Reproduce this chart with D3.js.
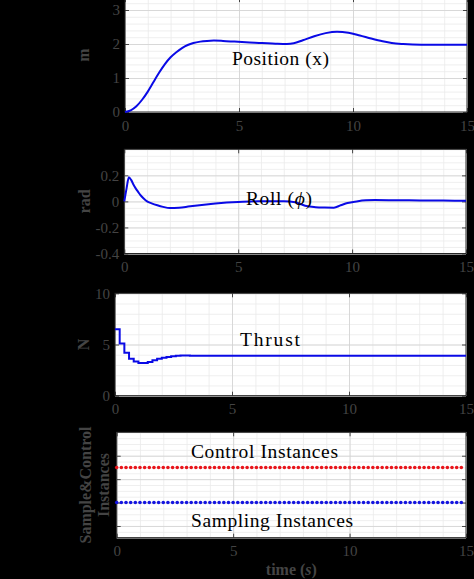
<!DOCTYPE html>
<html>
<head>
<meta charset="utf-8">
<script src="https://cdn.jsdelivr.net/npm/d3@7"></script>
<style>
  html, body { margin: 0; padding: 0; background: #000; }
  svg { display: block; }
  svg text { font-family: 'Liberation Serif', 'Times New Roman', 'DejaVu Serif', serif; }
</style>
</head>
<body>
<div id="chart"></div>
<script>
'use strict';

// time axis
const xTicks = [0, 5, 10, 15]

// position (x) response, m
const posT = [0, 0.25, 0.5, 0.75, 1.0, 1.25, 1.5, 1.75, 2.0, 2.25, 2.5, 2.75, 3.0, 3.3, 3.6, 3.9, 4.3, 4.8, 5.3, 6.0, 6.6, 7.1, 7.4, 7.8, 8.3, 8.8, 9.3, 9.8, 10.3, 10.8, 11.3, 11.7, 12.2, 13.0, 14.0, 15.0]
const posV = [0, 0.05, 0.17, 0.36, 0.6, 0.88, 1.16, 1.41, 1.61, 1.76, 1.88, 1.97, 2.03, 2.07, 2.09, 2.10, 2.09, 2.07, 2.05, 2.03, 2.01, 2.0, 2.02, 2.11, 2.23, 2.32, 2.36, 2.33, 2.25, 2.16, 2.08, 2.03, 2.0, 1.98, 1.98, 1.98]
const posTicks = [0, 1, 2, 3]

// roll angle, rad
const rollT = [0, 0.1, 0.2, 0.3, 0.4, 0.5, 0.6, 0.7, 0.85, 1.0, 1.2, 1.45, 1.7, 2.0, 2.4, 2.8, 3.2, 3.6, 4.0, 4.5, 5.0, 5.5, 6.0, 6.5, 7.0, 7.5, 7.8, 8.0, 8.4, 8.8, 9.2, 9.5, 9.8, 10.2, 10.6, 11.0, 12.0, 13.0, 14.0, 15.0]
const rollV = [0, 0.1, 0.185, 0.165, 0.13, 0.1, 0.075, 0.05, 0.022, 0.0, -0.015, -0.03, -0.042, -0.051, -0.048, -0.04, -0.031, -0.023, -0.016, -0.009, -0.004, -0.001, 0.001, 0.002, 0.001, -0.006, -0.025, -0.036, -0.044, -0.047, -0.048, -0.03, -0.012, 0.0, 0.008, 0.01, 0.009, 0.007, 0.006, 0.005]
const rollTicks = [-0.4, -0.2, 0, 0.2]

// thrust, N (zero-order hold)
const thrustT = [0, 0.2, 0.4, 0.6, 0.8, 1.0, 1.2, 1.4, 1.6, 1.8, 2.0, 2.2, 2.4, 2.6, 2.8, 3.0, 3.2, 15]
const thrustV = [6.5, 5.1, 4.2, 3.6, 3.35, 3.2, 3.2, 3.3, 3.45, 3.6, 3.7, 3.78, 3.85, 3.9, 3.92, 3.92, 3.9, 3.9]
const thrustTicks = [0, 5, 10]

// sampling / control instants, s
const sampleT = [0, 0.2, 0.4, 0.6, 0.8, 1, 1.2, 1.4, 1.6, 1.8, 2, 2.2, 2.4, 2.6, 2.8, 3, 3.2, 3.4, 3.6, 3.8,
  4, 4.2, 4.4, 4.6, 4.8, 5, 5.2, 5.4, 5.6, 5.8, 6, 6.2, 6.4, 6.6, 6.8, 7, 7.2, 7.4, 7.6, 7.8,
  8, 8.2, 8.4, 8.6, 8.8, 9, 9.2, 9.4, 9.6, 9.8, 10, 10.2, 10.4, 10.6, 10.8, 11, 11.2, 11.4, 11.6, 11.8,
  12, 12.2, 12.4, 12.6, 12.8, 13, 13.2, 13.4, 13.6, 13.8, 14, 14.2, 14.4, 14.6, 14.8]
const controlLevel = 1.75
const samplingLevel = 1
const instTicks = [0.5, 1, 1.5, 2]

const W = 474, H = 579
const serif = "'Liberation Serif', 'Times New Roman', 'DejaVu Serif', serif"
const lineBlue = '#0a0ae6'
const tickColor = '#444'

const svg = d3.select('#chart').append('svg')
  .attr('width', W).attr('height', H)
svg.append('rect').attr('width', W).attr('height', H).attr('fill', '#000')

function drawPanel(cfg) {
  const x = d3.scaleLinear().domain([0, 15]).range([cfg.left, cfg.right])
  const y = d3.scaleLinear().domain(cfg.yDomain).range([cfg.bottom, cfg.top])
  const h = cfg.bottom - cfg.top, w = cfg.right - cfg.left
  const g = svg.append('g')

  g.append('rect')
    .attr('x', cfg.left).attr('y', cfg.top)
    .attr('width', w).attr('height', h)
    .attr('fill', '#fff')

  const grid = (axis, pos, color) => {
    g.append('g')
      .attr('transform', pos)
      .call(axis.tickFormat('').tickSizeOuter(0))
      .call(s => s.select('.domain').remove())
      .selectAll('line').attr('stroke', color).attr('stroke-width', 0.8)
  }
  // minor grid
  grid(d3.axisBottom(x).tickValues(d3.range(0, 15.01, 1)).tickSizeInner(-h), `translate(0,${cfg.bottom})`, '#ebebeb')
  grid(d3.axisLeft(y).tickValues(d3.range(cfg.yDomain[0], cfg.yDomain[1] + 1e-9, cfg.minor)).tickSizeInner(-w), `translate(${cfg.left},0)`, '#ebebeb')
  // major grid
  grid(d3.axisBottom(x).tickValues(xTicks).tickSizeInner(-h), `translate(0,${cfg.bottom})`, '#d2d2d2')
  grid(d3.axisLeft(y).tickValues(cfg.ticks).tickSizeInner(-w), `translate(${cfg.left},0)`, '#d2d2d2')

  // tick marks + labels
  const styleAxis = s => {
    s.select('.domain').remove()
    s.attr('font-size', 15).attr('font-family', null).attr('color', tickColor)
  }
  g.append('g').attr('transform', `translate(0,${cfg.bottom})`)
    .call(d3.axisBottom(x).tickValues(xTicks).tickSizeInner(-4).tickSizeOuter(0).tickPadding(8))
    .call(styleAxis)
  g.append('g').attr('transform', `translate(0,${cfg.top})`)
    .call(d3.axisTop(x).tickValues(xTicks).tickSizeInner(-4).tickSizeOuter(0).tickFormat(''))
    .call(styleAxis)
  g.append('g').attr('transform', `translate(${cfg.left},0)`)
    .call(d3.axisLeft(y).tickValues(cfg.ticks).tickSizeInner(-4).tickSizeOuter(0).tickPadding(5)
      .tickFormat(cfg.showYLabels ? d => String(d) : ''))
    .call(styleAxis)
  g.append('g').attr('transform', `translate(${cfg.right},0)`)
    .call(d3.axisRight(y).tickValues(cfg.ticks).tickSizeInner(-4).tickSizeOuter(0).tickFormat(''))
    .call(styleAxis)

  g.append('rect')
    .attr('x', cfg.left).attr('y', cfg.top)
    .attr('width', w).attr('height', h)
    .attr('fill', 'none').attr('stroke', '#262626').attr('stroke-width', 1)

  // y label
  const lab = g.append('text')
    .attr('transform', `translate(${cfg.labelX},${(cfg.top + cfg.bottom) / 2}) rotate(-90)`)
    .attr('text-anchor', 'middle')
    .attr('font-weight', 'bold').attr('font-size', 16)
    .attr('fill', tickColor)
  cfg.yLabel.forEach((t, i) => {
    lab.append('tspan').attr('x', 0).attr('y', i * 18.5).attr('dy', '0.35em').text(t)
  })

  return {g, x, y}
}

function annotate(p, t, v, parts, width) {
  const txt = p.g.append('text')
    .attr('x', p.x(t)).attr('y', p.y(v))
    .attr('font-size', 19.5).attr('fill', '#000')
    .attr('textLength', width).attr('lengthAdjust', 'spacing')
  parts.forEach(([s, italic]) => {
    txt.append('tspan').attr('font-style', italic ? 'italic' : 'normal').text(s)
  })
}

// Panel 1: position
const p1 = drawPanel({left: 125, right: 467, top: -1.9, bottom: 112, yDomain: [0, 3.35],
  ticks: posTicks, minor: 0.2, showYLabels: true, yLabel: ['m'], labelX: 83})
p1.g.append('path')
  .datum(d3.zip(posT, posV))
  .attr('fill', 'none').attr('stroke', lineBlue).attr('stroke-width', 2)
  .attr('d', d3.line().x(d => p1.x(d[0])).y(d => p1.y(d[1])).curve(d3.curveMonotoneX))
annotate(p1, 4.69, 1.38, [['Position (x)', false]], 97)

// Panel 2: roll
const p2 = drawPanel({left: 124.3, right: 466, top: 149.3, bottom: 253.5, yDomain: [-0.4, 0.4],
  ticks: rollTicks, minor: 0.05, showYLabels: true, yLabel: ['rad'], labelX: 84})
p2.g.append('path')
  .datum(d3.zip(rollT, rollV))
  .attr('fill', 'none').attr('stroke', lineBlue).attr('stroke-width', 2)
  .attr('d', d3.line().x(d => p2.x(d[0])).y(d => p2.y(d[1])).curve(d3.curveMonotoneX))
annotate(p2, 5.34, -0.028, [['Roll (', false], ['\u03D5', true], [')', false]], 66)

// Panel 3: thrust
const p3 = drawPanel({left: 115, right: 466, top: 293.3, bottom: 395.7, yDomain: [0, 10],
  ticks: thrustTicks, minor: 1, showYLabels: true, yLabel: ['N'], labelX: 83})
p3.g.append('path')
  .datum(d3.zip(thrustT, thrustV))
  .attr('fill', 'none').attr('stroke', lineBlue).attr('stroke-width', 2)
  .attr('d', d3.line().x(d => p3.x(d[0])).y(d => p3.y(d[1])).curve(d3.curveStepAfter))
annotate(p3, 5.34, 4.88, [['Thrust', false]], 60)

// Panel 4: sampling and control instances
const p4 = drawPanel({left: 116.7, right: 466, top: 432.3, bottom: 537.7, yDomain: [0.25, 2.5],
  ticks: instTicks, minor: 0.125, showYLabels: false, yLabel: ['Sample&Control', 'Instances'], labelX: 85})
p4.g.append('g').selectAll('circle')
  .data(sampleT)
  .join('circle')
  .attr('cx', d => p4.x(d)).attr('cy', p4.y(controlLevel))
  .attr('r', 1.8).attr('fill', '#e8141a')
p4.g.append('g').selectAll('circle')
  .data(sampleT)
  .join('circle')
  .attr('cx', d => p4.x(d)).attr('cy', p4.y(samplingLevel))
  .attr('r', 1.8).attr('fill', '#1414e0')
annotate(p4, 3.19, 1.958, [['Control Instances', false]], 147)
annotate(p4, 3.19, 0.485, [['Sampling Instances', false]], 162)

// x label
const xl = svg.append('text')
  .attr('x', (116.7 + 466) / 2).attr('y', 575)
  .attr('text-anchor', 'middle')
  .attr('font-weight', 'bold').attr('font-size', 16)
  .attr('fill', tickColor)
xl.append('tspan').text('time (')
xl.append('tspan').attr('font-style', 'italic').text('s')
xl.append('tspan').text(')')
</script>
</body>
</html>
